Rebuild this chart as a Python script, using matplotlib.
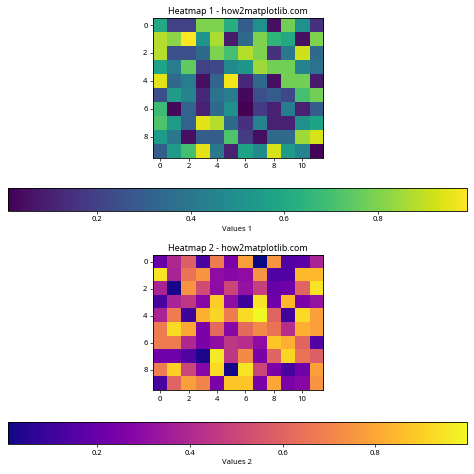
import numpy as np
import matplotlib
matplotlib.use("Agg")
import matplotlib.pyplot as plt

plt.rcParams['font.family'] = ['Noto Sans', 'DejaVu Sans']

# values (10 rows x 12 columns)
values_1 = [
    [0.60, 0.20, 0.20, 0.80, 0.80, 0.62, 0.30, 0.50, 0.05, 0.78, 0.50, 0.15],
    [0.88, 0.82, 0.99, 0.52, 0.87, 0.08, 0.35, 0.80, 0.65, 0.60, 0.05, 0.80],
    [0.88, 0.25, 0.25, 0.35, 0.80, 0.70, 0.88, 0.80, 0.15, 0.40, 0.92, 0.35],
    [0.58, 0.42, 0.75, 0.20, 0.22, 0.48, 0.52, 0.85, 0.78, 0.78, 0.45, 0.38],
    [0.95, 0.35, 0.42, 0.05, 0.33, 0.97, 0.12, 0.35, 0.05, 0.78, 0.78, 0.08],
    [0.25, 0.55, 0.45, 0.12, 0.38, 0.42, 0.03, 0.25, 0.30, 0.22, 0.70, 0.78],
    [0.68, 0.03, 0.32, 0.10, 0.35, 0.50, 0.01, 0.18, 0.10, 0.42, 0.10, 0.30],
    [0.72, 0.55, 0.32, 0.95, 0.88, 0.35, 0.15, 0.45, 0.10, 0.10, 0.50, 0.58],
    [0.55, 0.40, 0.05, 0.30, 0.30, 0.72, 0.18, 0.05, 0.35, 0.35, 0.85, 0.93],
    [0.30, 0.55, 0.70, 0.95, 0.40, 0.10, 0.58, 0.48, 0.93, 0.55, 0.45, 0.02],
]

values_2 = [
    [0.20, 0.40, 0.58, 0.12, 0.68, 0.25, 0.78, 0.007, 0.75, 0.15, 0.17, 0.38],
    [0.95, 0.38, 0.65, 0.75, 0.30, 0.28, 0.30, 0.75, 0.15, 0.15, 0.85, 0.85],
    [0.38, 0.02, 0.75, 0.52, 0.30, 0.50, 0.32, 0.48, 0.20, 0.22, 0.60, 0.95],
    [0.12, 0.38, 0.45, 0.28, 0.90, 0.30, 0.10, 0.95, 0.22, 0.85, 0.25, 0.32],
    [0.38, 0.68, 0.10, 0.82, 0.92, 0.68, 0.93, 0.998, 0.60, 0.10, 0.93, 0.78],
    [0.68, 0.93, 0.80, 0.25, 0.62, 0.28, 0.62, 0.72, 0.65, 0.42, 0.82, 0.78],
    [0.68, 0.68, 0.40, 0.25, 0.30, 0.45, 0.42, 0.30, 0.88, 0.82, 0.60, 0.15],
    [0.22, 0.22, 0.15, 0.03, 0.96, 0.45, 0.72, 0.25, 0.60, 0.92, 0.65, 0.58],
    [0.68, 0.90, 0.50, 0.28, 0.93, 0.02, 0.95, 0.50, 0.25, 0.12, 0.22, 0.78],
    [0.12, 0.60, 0.78, 0.70, 0.25, 0.88, 0.88, 0.25, 0.80, 0.25, 0.28, 0.75],
]

titles = ['Heatmap 1 - how2matplotlib.com', 'Heatmap 2 - how2matplotlib.com']
cbar_labels = ['Values 1', 'Values 2']
cmaps = ['viridis', 'plasma']

fig = plt.figure(figsize=(4.74, 4.74), dpi=100)

heat_pos = [[0.323, 0.667, 0.359, 0.295], [0.323, 0.177, 0.359, 0.285]]
cbar_pos = [[0.017, 0.555, 0.968, 0.049], [0.017, 0.063, 0.968, 0.047]]

for data, title, lab, cmap, hp, cp in zip([values_1, values_2], titles, cbar_labels,
                                           cmaps, heat_pos, cbar_pos):
    ax = fig.add_axes(hp)
    im = ax.imshow(np.array(data), cmap=cmap, aspect='auto', interpolation='nearest')
    ax.set_title(title, fontsize=6.4, pad=3)
    ax.set_xticks(range(0, 12, 2))
    ax.set_yticks(range(0, 10, 2))
    ax.tick_params(labelsize=5.5, length=2, width=0.5, pad=2)
    for s in ax.spines.values():
        s.set_linewidth(0.6)
    cax = fig.add_axes(cp)
    cb = fig.colorbar(im, cax=cax, orientation='horizontal')
    cb.set_label(lab, fontsize=5.5, labelpad=2)
    cb.ax.tick_params(labelsize=5.5, length=2, width=0.5, pad=2)
    cb.outline.set_linewidth(0.6)

fig.savefig('out.png', dpi=100)
